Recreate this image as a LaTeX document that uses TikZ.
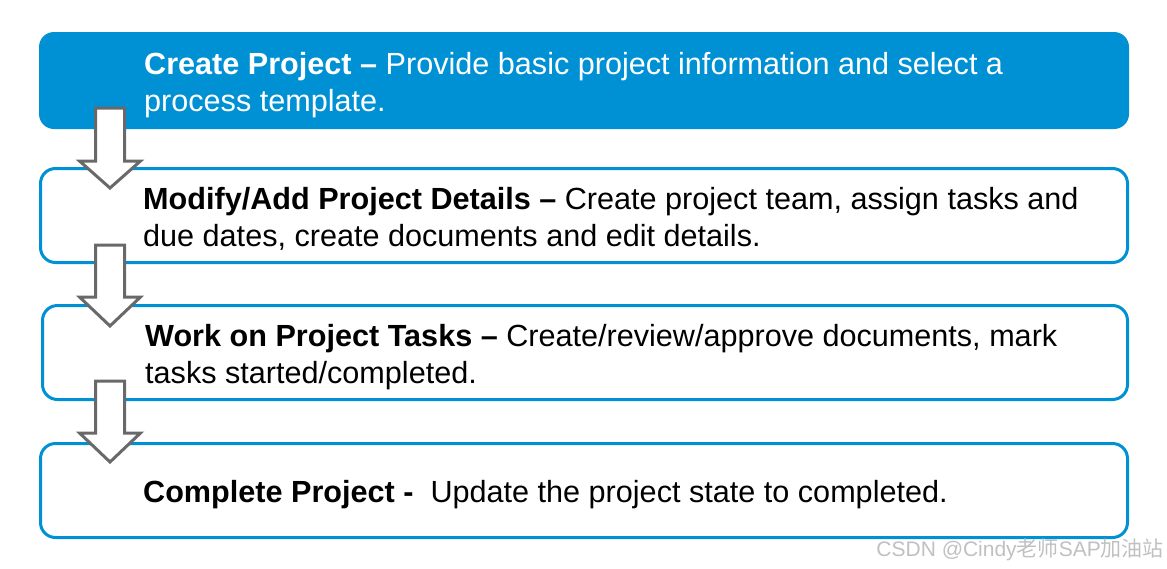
\documentclass[tikz,border=0pt]{standalone}
\usepackage{fontspec}
\setmainfont{Liberation Sans}
\newfontfamily\cjk{Noto Sans CJK SC}
\definecolor{sapblue}{RGB}{0,144,212}
\definecolor{arrowgray}{RGB}{105,105,105}
\definecolor{wmgray}{RGB}{192,192,192}
\begin{document}
\begin{tikzpicture}[x=1pt,y=-1pt,
  stepbox/.style={draw=sapblue,line width=3pt,rounded corners=15pt,fill=white},
  headbox/.style={fill=sapblue,rounded corners=15pt},
  txt/.style={anchor=base west,inner sep=0pt,font=\fontsize{30.6}{34}\selectfont},
  blockarrow/.style={draw=arrowgray,line width=3pt,fill=white,miter limit=10}]
\useasboundingbox (0,0) rectangle (1167,568);
% boxes
\fill[headbox] (39,32) rectangle (1129,129);
\draw[stepbox] (40.5,168.5) rectangle (1127.5,262.5);
\draw[stepbox] (42.5,305.5) rectangle (1127.5,399.5);
\draw[stepbox] (40.5,443.5) rectangle (1127.5,537.5);
% arrows
\foreach \t/\n/\p in {108/161/188, 245/297/326, 381/433/462}{
  \draw[blockarrow] (95.5,\t) -- (124.5,\t) -- (124.5,\n) -- (140.5,\n) -- (110,\p)
     -- (79.5,\n) -- (95.5,\n) -- cycle;
}
% texts
\node[txt,text=white] (t1a) at (144,74) {\textbf{Create Project –} Provide basic project information and select a};
\node[txt,text=white] (t1b) at (144,111) {process template.};
\node[txt] (t2a) at (143,209) {\textbf{Modify/Add Project Details –} Create project team, assign tasks and};
\node[txt] (t2b) at (143,246) {due dates, create documents and edit details.};
\node[txt] (t3a) at (145,346) {\textbf{Work on Project Tasks –} Create/review/approve documents, mark};
\node[txt] (t3b) at (145,383) {tasks started/completed.};
\node[txt] (t4a) at (143,502) {\textbf{Complete Project -}\ \ Update the project state to completed.};
% watermark
\node[anchor=base east,inner sep=0pt,text=wmgray,font=\fontsize{21}{24}\selectfont] (wm) at (1164,556) {CSDN @Cindy{\cjk 老师}SAP{\cjk 加油站}};
\end{tikzpicture}
\end{document}
